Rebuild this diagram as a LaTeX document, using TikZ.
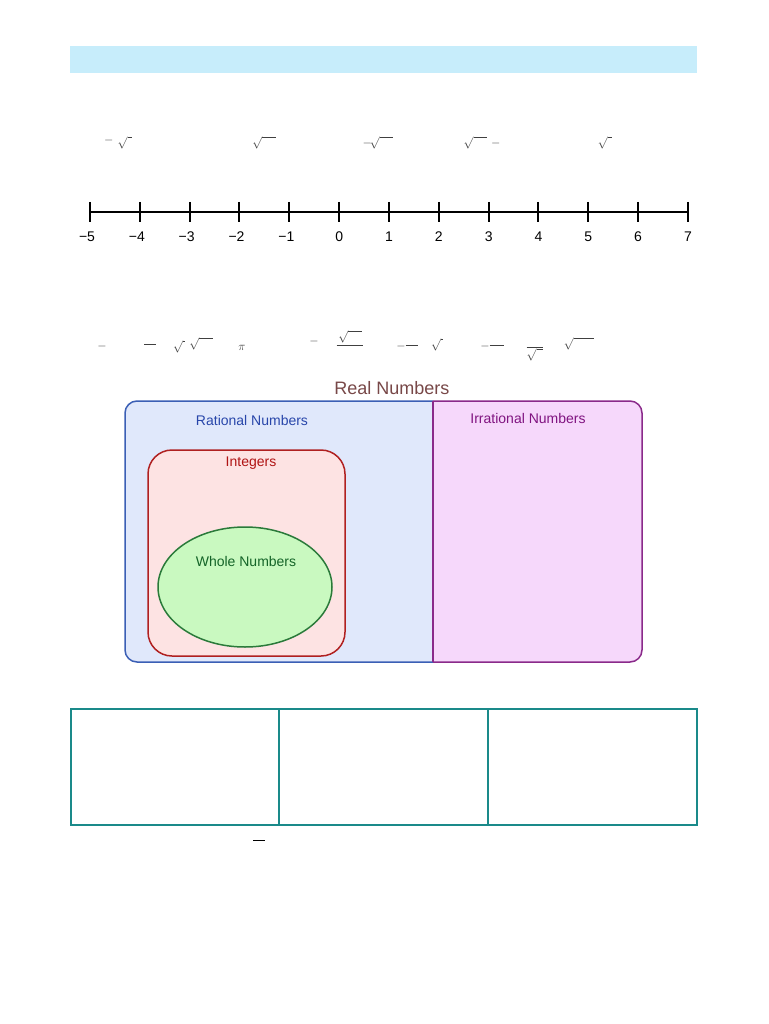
\documentclass[tikz,border=0pt]{standalone}
\usepackage{fontspec}
\setsansfont{Liberation Sans}
\begin{document}
\begin{tikzpicture}[x=1pt,y=-1pt,
  frag/.style={text=black!75,font=\fontsize{13}{15}\selectfont,inner sep=0pt},
  lab/.style={font=\sffamily\fontsize{14}{16}\selectfont,inner sep=1pt},
  numlab/.style={font=\sffamily\fontsize{14}{16}\selectfont,inner sep=0pt}]
\useasboundingbox (0,0) rectangle (768,1024);
\fill[white] (0,0) rectangle (768,1024);
% banner
\fill[cyan!22] (70,46) rectangle (697,73);
% row 1 fragments
\node[frag] (f1) at (118,143) {$-\ \sqrt{\ }$};
\node[frag] (f2) at (264,143) {$\sqrt{\phantom{xx}}$};
\node[frag] (f3) at (378,143) {$-\!\sqrt{\phantom{xx}}$};
\node[frag] (f4) at (482,143) {$\sqrt{\phantom{xx}}\ -$};
\node[frag] (f5) at (605,143) {$\sqrt{\ }$};
% number line
\draw[line width=2pt] (90,212) coordinate (nl0) -- (688,212) coordinate (nl1);
\foreach \i [count=\k from 0] in {-5,...,7}{
  \draw[line width=2pt] ({90+\k*49.83},202) -- ({90+\k*49.83},222);
}
\foreach \t [count=\k from 0] in {−5,−4,−3,−2,−1,0,1,2,3,4,5,6,7}{
  \node[numlab] (n\k) at ({87+\k*49.83+(\k>4?3:0)},237) {\t};
}
% row 2 fragments
\node[frag] (g1) at (102,346) {$-$};
\node[frag] (g2) at (150,346) {$\rule[3pt]{12pt}{0.6pt}$};
\node[frag] (g3) at (193,345) {$\sqrt{\,}\ \sqrt{\phantom{xx}}$};
\node[frag] (g4) at (242,348) {$\pi$};
\node[frag] (g5) at (314,341) {$-$};
\node[frag] (g6) at (350,343) {$\displaystyle\frac{\sqrt{\phantom{xx}}}{\phantom{xxxx}}$};
\node[frag] (g7) at (407,346) {$-\rule[3pt]{12pt}{0.6pt}$};
\node[frag] (g8) at (437,345) {$\sqrt{\,}$};
\node[frag] (g9) at (492,346) {$-\rule[3pt]{14pt}{0.6pt}$};
\node[frag] (g10) at (535,349) {$\displaystyle\frac{\phantom{x}}{\sqrt{\phantom{x}}}$};
\node[frag] (g11) at (579,344) {$\sqrt{\phantom{xxx}}$};
% Venn
\node[font=\sffamily\fontsize{18}{20}\selectfont,text={rgb,255:red,120;green,72;blue,72}] (real) at (392,388) {Real Numbers};
\draw[fill={rgb,255:red,224;green,232;blue,251},draw={rgb,255:red,59;green,95;blue,181},line width=1.5pt,rounded corners=12pt]
  (433,401) -- (125,401) -- (125,662) -- (433,662);
\draw[fill={rgb,255:red,246;green,216;blue,251},draw={rgb,255:red,138;green,42;blue,138},line width=1.5pt,rounded corners=12pt]
  (433,401) -- (642,401) -- (642,662) -- (433,662);
\draw[draw={rgb,255:red,138;green,42;blue,138},line width=1.5pt] (433,401) -- (433,662);
\node[lab,text={rgb,255:red,40;green,70;blue,170}] (rat) at (252,420) {Rational Numbers};
\node[lab,text={rgb,255:red,128;green,20;blue,128}] (irr) at (528,418) {Irrational Numbers};
\draw[fill={rgb,255:red,253;green,227;blue,227},draw={rgb,255:red,176;green,32;blue,32},line width=1.5pt,rounded corners=24pt]
  (148,450) rectangle (345,656);
\node[lab,text={rgb,255:red,176;green,20;blue,20}] (int) at (251,463) {Integers};
\draw[fill={rgb,255:red,201;green,249;blue,192},draw={rgb,255:red,42;green,122;blue,58},line width=1.5pt]
  (245,587) ellipse (87 and 60);
\node[lab,text={rgb,255:red,20;green,100;blue,40}] (whole) at (246,561) {Whole Numbers};
% table
\draw[draw={rgb,255:red,26;green,138;blue,138},line width=2.6pt] (71,709) rectangle (697,825);
\draw[draw={rgb,255:red,26;green,138;blue,138},line width=2.2pt] (279,709) -- (279,825);
\draw[draw={rgb,255:red,26;green,138;blue,138},line width=1.4pt] (488,709) -- (488,825);
\draw[line width=1pt] (253,840) -- (265,840);
\end{tikzpicture}
\end{document}
